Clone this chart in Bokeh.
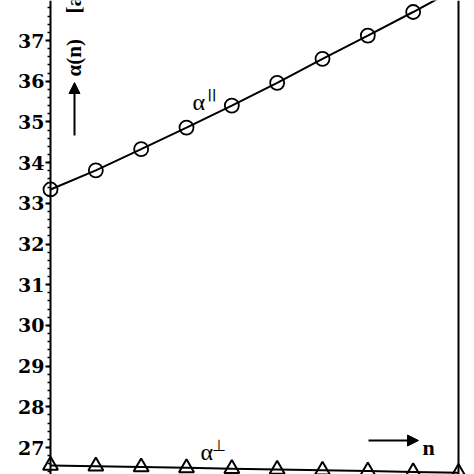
import math
from bokeh.plotting import figure
from bokeh.models import Range1d, SingleIntervalTicker, Span, Label, Arrow, NormalHead
from bokeh.embed import file_html
from bokeh.resources import INLINE

# data
n = [0, 1, 2, 3, 4, 5, 6, 7, 8, 9]
alpha_par = [33.34, 33.81, 34.33, 34.86, 35.40, 35.96, 36.55, 37.12, 37.70, 38.30]
alpha_perp = [26.56, 26.54, 26.52, 26.50, 26.48, 26.46, 26.44, 26.42, 26.40, 26.38]

# picture pixel -> data helpers
XS = 408 / 9.0
YS = 40.7
def px(x):
    return (x - 50) / XS
def py(y):
    return 37 - (y - 40) / YS

W = 466
H = 474
p = figure(width=W, height=H, output_backend="svg", toolbar_location=None,
           x_range=Range1d(px(0), px(W)), y_range=Range1d(py(H), py(0)),
           min_border=0)
p.outline_line_color = None
p.xgrid.visible = False
p.ygrid.visible = False
p.xaxis.visible = False

ax = p.yaxis[0]
ax.fixed_location = 0
ax.ticker = SingleIntervalTicker(interval=1, num_minor_ticks=5)
ax.axis_line_width = 2
ax.axis_line_color = "black"
ax.major_tick_line_width = 2
ax.major_tick_out = 5
ax.major_tick_in = 0
ax.minor_tick_out = 3
ax.minor_tick_in = 0
ax.minor_tick_line_width = 1.5
ax.major_label_standoff = 1
ax.major_label_text_font = "DejaVu Serif"
ax.major_label_text_font_style = "bold"
ax.major_label_text_font_size = "19px"
ax.major_label_text_color = "black"

p.add_layout(Span(location=9, dimension="height", line_color="black", line_width=2))

p.line(n, alpha_par, line_color="black", line_width=2)
p.scatter(n, alpha_par, marker="circle", size=14, fill_color=None,
          line_color="black", line_width=1.8)
p.line(n, alpha_perp, line_color="black", line_width=2)
p.scatter(n, alpha_perp, marker="triangle", size=15, fill_color=None,
          line_color="black", line_width=2)

serif = "Liberation Serif"
p.add_layout(Label(x=px(73), y=py(76), text="α(n)", angle=math.pi / 2,
                   text_font=serif, text_font_style="bold", text_font_size="21px",
                   text_color="black", text_align="left", text_baseline="middle"))
p.add_layout(Label(x=px(73), y=py(13), text="[a.u.]", angle=math.pi / 2,
                   text_font=serif, text_font_style="bold", text_font_size="21px",
                   text_color="black", text_align="left", text_baseline="middle"))
p.add_layout(Arrow(x_start=px(74), y_start=py(135), x_end=px(74), y_end=py(82),
                   line_width=2, line_color="black",
                   end=NormalHead(size=11, fill_color="black", line_color="black")))

p.add_layout(Label(x=px(192), y=py(101), text="α", text_font=serif, text_color="black",
                   text_font_size="24px", text_align="left", text_baseline="alphabetic"))
p.add_layout(Label(x=px(207), y=py(94), text="||", text_font="DejaVu Sans", text_color="black",
                   text_font_style="bold", text_font_size="12px",
                   text_align="left", text_baseline="alphabetic"))

p.add_layout(Label(x=px(200), y=py(451), text="α", text_font=serif, text_color="black",
                   text_font_size="24px", text_align="left", text_baseline="alphabetic"))
p.add_layout(Label(x=px(211), y=py(445), text="⊥", text_font=serif, text_color="black",
                   text_font_size="16px", text_align="left", text_baseline="alphabetic"))

p.add_layout(Arrow(x_start=px(368), y_start=py(440), x_end=px(418), y_end=py(440),
                   line_width=2, line_color="black",
                   end=NormalHead(size=11, fill_color="black", line_color="black")))
p.add_layout(Label(x=px(422), y=py(447), text="n", text_font=serif, text_font_style="bold",
                   text_color="black", text_font_size="22px",
                   text_align="left", text_baseline="alphabetic"))

open("out.html", "w").write(file_html(p, INLINE))
